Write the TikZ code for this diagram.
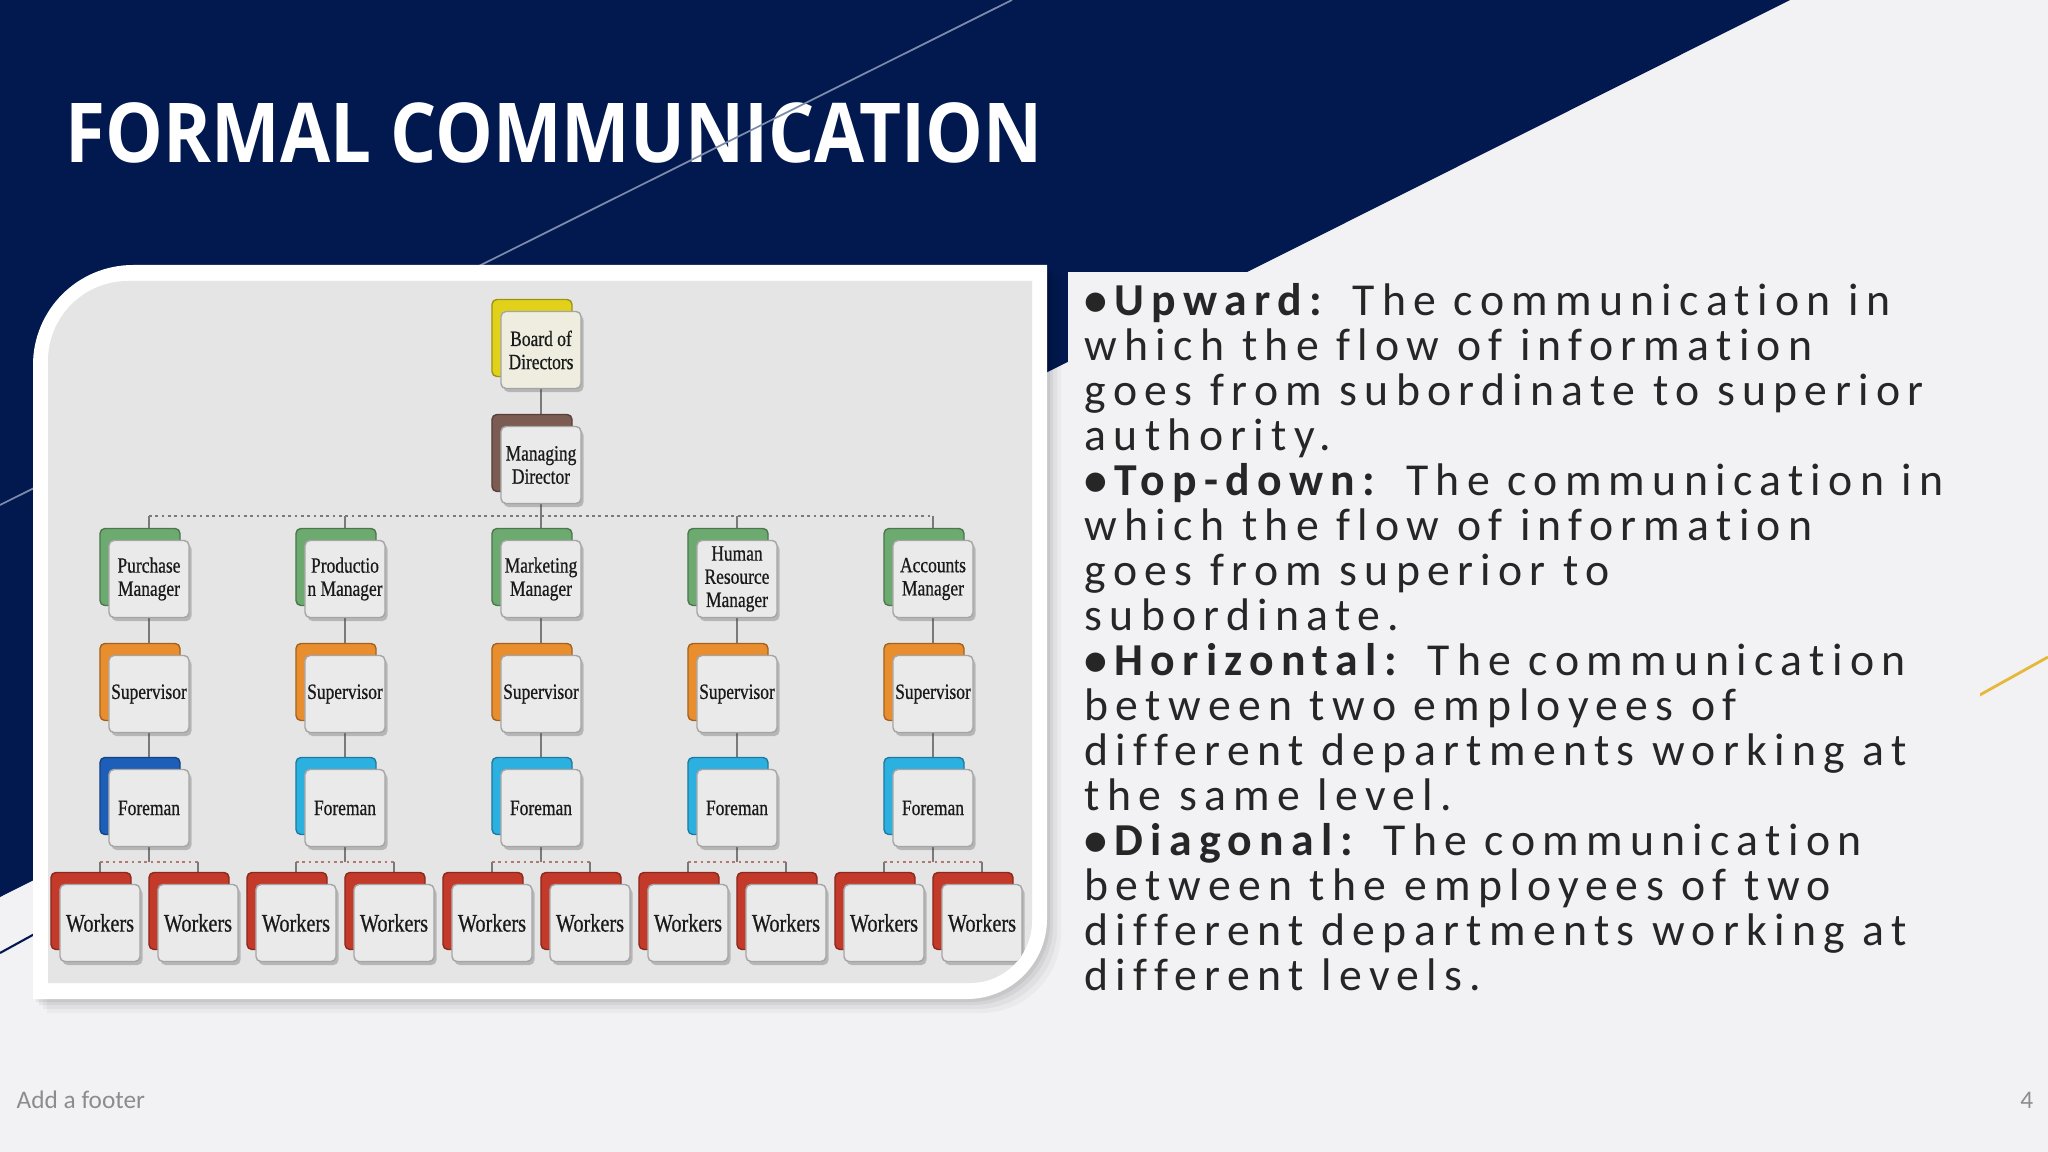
\documentclass[tikz,border=0pt]{standalone}
\usepackage{fontspec}
\setmainfont{Carlito}
\newfontfamily\titlefont[FakeStretch=0.88]{Open Sans}
\newfontfamily\bodyfont[LetterSpace=16,Ligatures=NoCommon]{Carlito}
\newfontfamily\chartfont[FakeStretch=0.8,FakeBold=0.6]{Liberation Serif}
\usetikzlibrary{shadows,calc,positioning}
\definecolor{navy}{HTML}{01194F}
\definecolor{slidebg}{HTML}{F2F1F4}
\definecolor{thinline}{HTML}{7D8BAA}
\definecolor{goldline}{HTML}{E6B83A}
\definecolor{chartbg}{HTML}{E5E5E6}
\definecolor{cardfill}{HTML}{EAEAEA}
\definecolor{boardfill}{HTML}{EEEDDF}
\definecolor{cardedge}{HTML}{A5A5A5}
\definecolor{cardtext}{HTML}{1A1A1A}
\definecolor{bodyink}{HTML}{262626}
\definecolor{footgray}{HTML}{8C8C8C}
\definecolor{linkgray}{HTML}{7A7A7A}
\definecolor{busred}{HTML}{B07A70}
\definecolor{tabyellow}{HTML}{E2D11B}
\definecolor{tabbrown}{HTML}{7B5B52}
\definecolor{tabgreen}{HTML}{6DAA6F}
\definecolor{taborange}{HTML}{E88E2E}
\definecolor{foredark}{HTML}{1D5FB8}
\definecolor{forecyan}{HTML}{2BB0E0}
\definecolor{tabred}{HTML}{C43A2A}
\pgfdeclarelayer{backdrop}
\pgfdeclarelayer{links}
\pgfsetlayers{backdrop,links,main}
\tikzset{
  card/.style={draw=cardedge, fill=cardfill, rounded corners=0.05cm, minimum width=0.8cm, minimum height=0.77cm, inner sep=0.5pt, align=center, text=cardtext, font=\chartfont\fontsize{6.2}{6.6}\selectfont, drop shadow={shadow xshift=0.025cm, shadow yshift=-0.035cm, opacity=0.3, fill=black!70}},
  backtab/.style={copy shadow={shadow xshift=-0.09cm, shadow yshift=0.12cm, fill=#1, draw=#1!70!black}},
  boardcard/.style={card, fill=boardfill, backtab=tabyellow},
  mdcard/.style={card, backtab=tabbrown},
  mgrcard/.style={card, backtab=tabgreen},
  supcard/.style={card, backtab=taborange},
  forecard/.style={card, backtab=#1},
  workcard/.style={card, backtab=tabred, font=\chartfont\fontsize{7.2}{7.6}\selectfont},
  link/.style={draw=linkgray, line width=0.5pt},
  bus/.style={draw=linkgray, line width=0.8pt, densely dotted},
  wbus/.style={draw=busred, line width=0.8pt, densely dotted},
  titletext/.style={font=\titlefont\bfseries\fontsize{23.5}{28}\selectfont, text=white, inner sep=0pt},
  bodytext/.style={font=\bodyfont\fontsize{13}{12.8}\selectfont, text=bodyink, align=left, inner sep=0pt},
  foottext/.style={font=\fontsize{7.2}{8}\selectfont, text=footgray, inner sep=0pt}
}

\begin{document}
\begin{tikzpicture}[x=0.01cm, y=-0.01cm]
  \useasboundingbox (0,0) rectangle (2048,1152);

  \begin{pgfonlayer}{backdrop}
    % slide background and navy wedge
    \fill[slidebg] (0,0) rectangle (2048,1152);
    \fill[navy] (0,0) -- (1790,0) -- (0,897) -- cycle;
    \node[titletext, anchor=base west] (title) at (65,163) {FORMAL COMMUNICATION};
    \draw[thinline, line width=0.5pt] (1012,0) -- (0,505);
    \draw[navy, line width=0.6pt] (0,953) -- (40,931);
    \draw[goldline, line width=0.8pt] (1969,701) -- (2048,657);
    % panel behind the text
    \fill[slidebg] (1068,272) rectangle (1980,1010);
    % chart frame with soft shadow
    \foreach \s/\o in {14/0.03, 10/0.04, 6/0.05, 3/0.06}
      \fill[black, opacity=\o, shift={(\s,\s)}] (33,999) -- (33,365) arc[start angle=180, end angle=270, radius=100] -- (1047,265) -- (1047,919) arc[start angle=0, end angle=90, radius=80] -- cycle;
    \fill[white] (33,999) -- (33,365) arc[start angle=180, end angle=270, radius=100] -- (1047,265) -- (1047,919) arc[start angle=0, end angle=90, radius=80] -- cycle;
    \fill[chartbg] (48,983) -- (48,361) arc[start angle=180, end angle=270, radius=80] -- (1032,281) -- (1032,921) arc[start angle=0, end angle=90, radius=62] -- cycle;
  \end{pgfonlayer}

  \begin{scope}
    \clip (48,983) -- (48,361) arc[start angle=180, end angle=270, radius=80] -- (1032,281) -- (1032,921) arc[start angle=0, end angle=90, radius=62] -- cycle;
    \node[boardcard] (board) at (541,350) {Board of\\Directors};
    \node[mdcard] (md) at (541,465) {Managing\\Director};
    \foreach \x/\nm/\lab/\fc in {149/pur/{Purchase\\Manager}/foredark, 345/pro/{Productio\\n Manager}/forecyan, 541/mkt/{Marketing\\Manager}/forecyan, 737/hrm/{Human\\Resource\\Manager}/forecyan, 933/acc/{Accounts\\Manager}/forecyan}{
      \node[mgrcard] (\nm) at (\x,579) {\lab};
      \node[supcard] (sup-\nm) at (\x,694) {Supervisor};
      \node[forecard=\fc] (fore-\nm) at (\x,808) {Foreman};
      \node[workcard] (wa-\nm) at (\x-49,923) {Workers};
      \node[workcard] (wb-\nm) at (\x+49,923) {Workers};
    }
  \end{scope}

  \begin{pgfonlayer}{links}
    \coordinate (mgrbus) at (541,516);
    \draw[link] (board) -- (md);
    \draw[link] (md) -- (mgrbus);
    \draw[bus] (pur |- mgrbus) -- (acc |- mgrbus);
    \foreach \nm in {pur,pro,mkt,hrm,acc}{
      \draw[link] (\nm |- mgrbus) -- (\nm);
      \draw[link] (\nm) -- (sup-\nm);
      \draw[link] (sup-\nm) -- (fore-\nm);
      \draw[link] (fore-\nm) -- ($(fore-\nm)+(0,54)$) coordinate (wbus-\nm);
      \draw[wbus] (wa-\nm |- wbus-\nm) -- (wb-\nm |- wbus-\nm);
      \draw[link] (wa-\nm |- wbus-\nm) -- (wa-\nm);
      \draw[link] (wb-\nm |- wbus-\nm) -- (wb-\nm);
    }
  \end{pgfonlayer}

  \node[bodytext, anchor=north west] (desc) at (1084,283) {\textbf{•Upward:} The communication in\\
which the flow of information\\
goes from subordinate to superior\\
authority.\\
\textbf{•Top-down:} The communication in\\
which the flow of information\\
goes from superior to\\
subordinate.\\
\textbf{•Horizontal:} The communication\\
between two employees of\\
different departments working at\\
the same level.\\
\textbf{•Diagonal:} The communication\\
between the employees of two\\
different departments working at\\
different levels.};

  \node[foottext, anchor=base west] (footer) at (16,1108) {Add a footer};
  \node[foottext, anchor=base east] (pageno) at (2034,1108) {4};
\end{tikzpicture}
\end{document}
